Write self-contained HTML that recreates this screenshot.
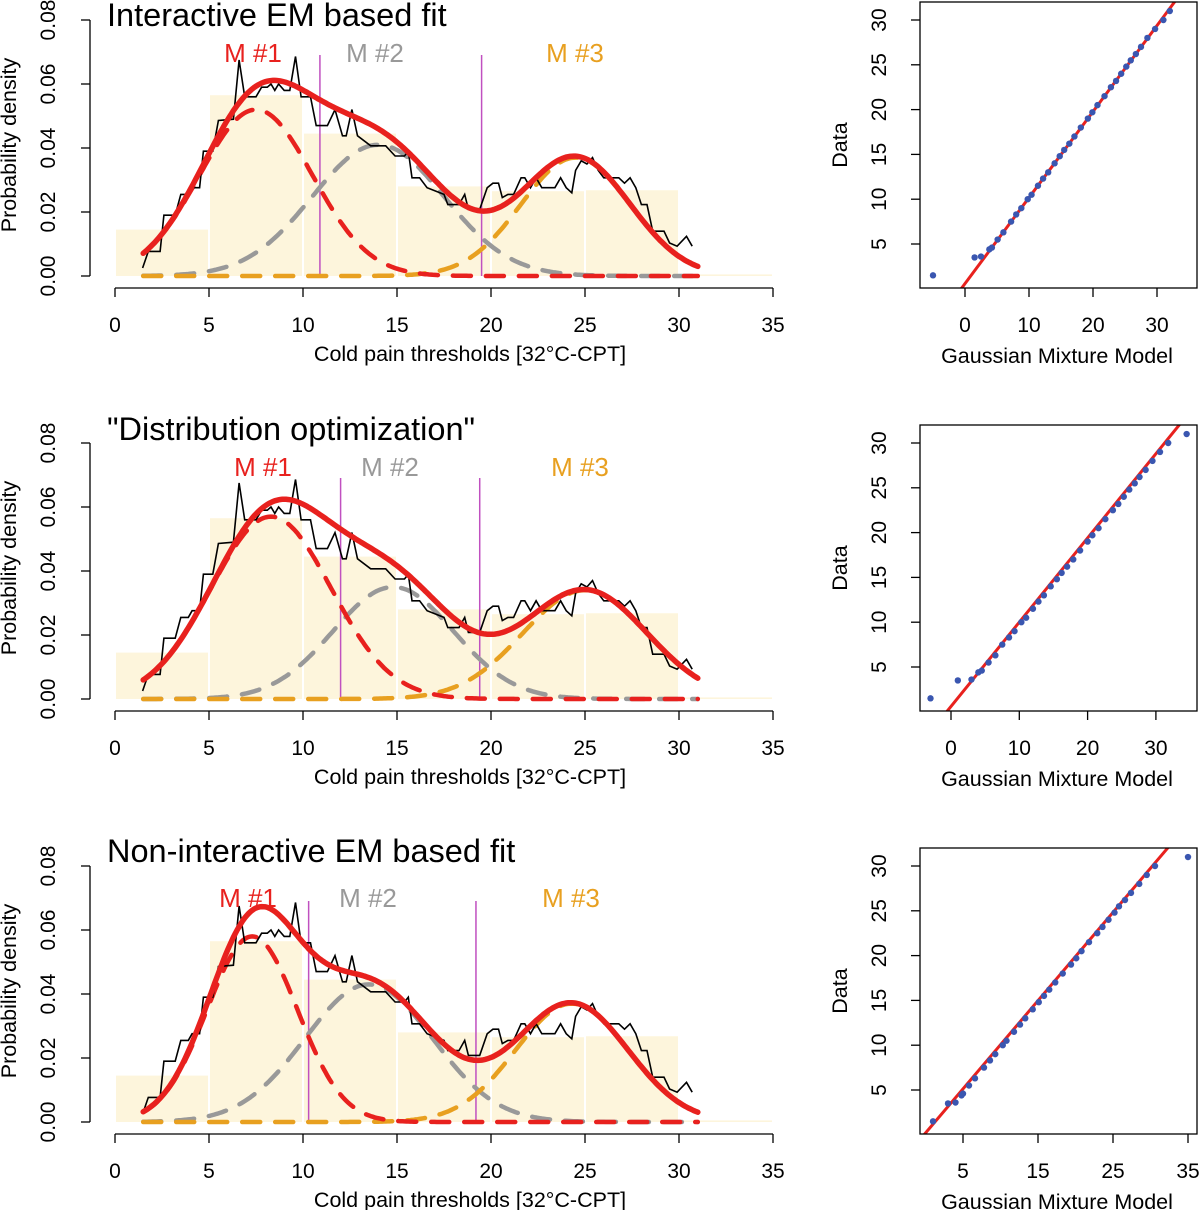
<!DOCTYPE html>
<html><head><meta charset="utf-8"><style>
html,body{margin:0;padding:0;background:#fff;}
svg{display:block;font-family:"Liberation Sans",Arial,sans-serif;}
</style></head><body>
<svg id="chart" width="1200" height="1210" viewBox="0 0 1200 1210" xmlns="http://www.w3.org/2000/svg"></svg>
<script>
var titles = ["Interactive EM based fit", "\"Distribution optimization\"", "Non-interactive EM based fit"];
var histEdges = [0, 5, 10, 15, 20, 25, 30, 35];
var histDensity = [0.0145, 0.0565, 0.0445, 0.028, 0.0265, 0.0268, 0.0005];
var xTicks = [0, 5, 10, 15, 20, 25, 30, 35];
var yTicks = [0, 0.02, 0.04, 0.06, 0.08];
var yTickLabels = ["0.00", "0.02", "0.04", "0.06", "0.08"];
var empX = [1.47,1.77,2.4,2.6,3.2,3.5,3.9,4.1,4.5,4.7,5.2,5.5,6.3,6.6,6.9,7.5,7.8,8.1,8.3,8.5,8.7,9.0,9.3,9.6,9.9,10.4,10.7,11.3,11.7,12.1,12.3,12.6,12.9,13.6,14.4,14.9,15.4,15.6,15.8,16.2,16.6,17.5,17.7,18.3,18.6,18.8,19.4,19.8,20.1,20.4,20.6,20.9,21.2,21.6,21.8,22.1,22.4,22.7,23.4,23.7,24.0,24.3,24.5,24.8,25.1,25.4,25.7,26.0,26.8,27.1,27.4,27.7,28.0,28.3,28.6,29.2,29.5,29.9,30.4,30.7];
var empY = [0.0025,0.0077,0.0077,0.019,0.019,0.0255,0.0255,0.0276,0.0276,0.039,0.039,0.0486,0.049,0.0675,0.056,0.056,0.059,0.059,0.060,0.058,0.060,0.058,0.058,0.0686,0.056,0.056,0.047,0.047,0.052,0.0438,0.0438,0.052,0.0438,0.0407,0.0407,0.0375,0.0375,0.039,0.0307,0.0307,0.0276,0.0255,0.0223,0.0223,0.0255,0.0208,0.0208,0.0276,0.029,0.029,0.0245,0.0255,0.0255,0.0307,0.0307,0.0276,0.0307,0.0276,0.0276,0.0307,0.0276,0.026,0.033,0.036,0.035,0.037,0.033,0.0307,0.0307,0.029,0.0307,0.0276,0.0223,0.0223,0.014,0.014,0.0103,0.0093,0.0124,0.0093];
var means = [[7.5,14,24.5],[8.3,14.8,25],[7.3,13.5,24.3]];
var sds = [[3,3.5,2.9],[3.2,3.2,3.3],[2.4,3.4,3.0]];
var peaks = [[0.052,0.041,0.037],[0.057,0.035,0.034],[0.058,0.043,0.037]];
var bounds = [[10.9,19.5],[12,19.4],[10.3,19.2]];
var labelX = [[253,375,575],[263,390,580],[248,368,571]];
var titleY = [26, 440, 862];
var mLabelY = [62, 476, 907];
var qqData = [1.5,3.5,3.6,4.4,4.6,5.5,6.3,7.5,8.3,9,10,10.5,11.5,12.3,13,14,14.8,15.5,16.2,17,18,19,19.7,20.5,21.5,22.5,23.2,24,24.8,25.5,26.2,27,28,29,30,31];
var qqTheo = [
 [-5,1.5,2.5,3.8,4.2,5.1,6,7.2,8,8.8,9.8,10.4,11.4,12.2,13,14,14.8,15.5,16.3,17.1,18.1,19.2,19.9,20.7,21.8,22.8,23.6,24.4,25.2,25.9,26.7,27.5,28.5,29.7,31.0,32.0],
 [-3,1,3,4,4.5,5.5,6.5,7.5,8.5,9.3,10.3,11,12,12.8,13.6,14.6,15.5,16.2,17,17.9,18.9,20,20.7,21.6,22.6,23.7,24.5,25.3,26.1,26.9,27.6,28.5,29.5,30.6,31.8,34.5],
 [1,3,4,4.8,5,5.8,6.6,7.8,8.6,9.3,10.3,10.8,11.8,12.6,13.3,14.3,15.1,15.8,16.5,17.3,18.3,19.4,20.1,20.8,21.8,22.9,23.6,24.4,25.2,25.8,26.6,27.4,28.5,29.5,30.6,35]];
var qqSlope = [0.96, 0.94, 0.985];
var qqIntercept = [0.58, 0.6, 0.2];
var qqXTicks = [[0,10,20,30],[0,10,20,30],[5,15,25,35]];
var qqYTicks = [5,10,15,20,25,30];

var rootSvg = document.getElementById('chart');
var SVGNS = 'http://www.w3.org/2000/svg';
function mk(tag, attrs, parent, text){
  var e = document.createElementNS(SVGNS, tag);
  for (var k in attrs) e.setAttribute(k, attrs[k]);
  if (text !== undefined) e.textContent = text;
  (parent || rootSvg).appendChild(e);
  return e;
}
function gauss(x, m, s, pk){ return pk*Math.exp(-Math.pow((x-m)/s,2)/2); }
var panelOffsets = [0, 423, 846];
var qqX0 = [965, 951, 925.5], qqXs = [6.4, 6.83, 7.5];
var compColors = ['#e8211e', '#999999', '#e8a020'];
var FS = 21;

function drawPanel(p){
  var oy = panelOffsets[p];
  var g = mk('g', {}, rootSvg);
  
  
  function X(v){ return 115 + v*18.8; }
  function Y(v){ return 276 + oy - v*3200; }
  for (var i = 0; i < histDensity.length; i++) {
    var d = histDensity[i];
    var r = mk('rect', {x: X(histEdges[i])+1, y: Y(d), width: X(histEdges[i+1])-X(histEdges[i])-2, height: Y(0)-Y(d), fill: '#fdf5dc'}, g);
    
    
  }
  for (var b = 0; b < 2; b++) {
    var bx = X(bounds[p][b]);
    var l = mk('line', {x1: bx, x2: bx, y1: 55+oy, y2: Y(0), stroke: '#c050c0', 'stroke-width': 1.5}, g);
    
    
  }
  var order = [1, 2, 0];
  for (var oi = 0; oi < 3; oi++) {
    var c = order[oi];
    var pts = [];
    for (var x = 1.5; x <= 31.0001; x += 0.1) pts.push(X(x).toFixed(1)+','+Y(gauss(x, means[p][c], sds[p][c], peaks[p][c])).toFixed(1));
    var pl = mk('polyline', {points: pts.join(' '), fill: 'none', stroke: compColors[c], 'stroke-width': 4.5, 'stroke-dasharray': '18,15', 'stroke-linecap': 'round'}, g);
    
    
  }
  var ep = [];
  for (var j = 0; j < empX.length; j++) ep.push(X(empX[j]).toFixed(1)+','+Y(empY[j]).toFixed(1));
  var emp = mk('polyline', {points: ep.join(' '), fill: 'none', stroke: '#000', 'stroke-width': 1.6}, g);
  
  
  var tp = [];
  for (var x2 = 1.5; x2 <= 31.0001; x2 += 0.1) {
    var s = 0; for (var k = 0; k < 3; k++) s += gauss(x2, means[p][k], sds[p][k], peaks[p][k]);
    tp.push(X(x2).toFixed(1)+','+Y(s).toFixed(1));
  }
  var tl = mk('polyline', {points: tp.join(' '), fill: 'none', stroke: '#e8211e', 'stroke-width': 5.5, 'stroke-linecap': 'round'}, g);
  
  
  var mlabels = ['M #1', 'M #2', 'M #3'];
  for (var m = 0; m < 3; m++) {
    var tx = mk('text', {x: labelX[p][m], y: mLabelY[p], 'text-anchor': 'middle', 'font-size': 26, fill: compColors[m]}, g, mlabels[m]);
    
    
  }
  var tt = mk('text', {x: 107, y: titleY[p], 'font-size': 32.5, fill: '#000'}, g, titles[p]);
  
  
  var ax = mk('g', {stroke: '#000', 'stroke-width': 1.3}, g);
  
  
  mk('line', {x1: X(0), x2: X(35), y1: 288+oy, y2: 288+oy}, ax);
  for (var t = 0; t < xTicks.length; t++) {
    mk('line', {x1: X(xTicks[t]), x2: X(xTicks[t]), y1: 288+oy, y2: 297+oy}, ax);
    var xl = mk('text', {x: X(xTicks[t]), y: 332+oy, 'text-anchor': 'middle', 'font-size': FS, fill: '#000'}, g, String(xTicks[t]));
    
    
  }
  var xt = mk('text', {x: 470, y: 361+oy, 'text-anchor': 'middle', 'font-size': 21.5}, g, 'Cold pain thresholds [32°C-CPT]');
  
  
  var ay = mk('g', {stroke: '#000', 'stroke-width': 1.3}, g);
  
  
  mk('line', {x1: 90, x2: 90, y1: Y(0.08), y2: Y(0)}, ay);
  for (var yi = 0; yi < yTicks.length; yi++) {
    var yy = Y(yTicks[yi]);
    mk('line', {x1: 81, x2: 90, y1: yy, y2: yy}, ay);
    var yl = mk('text', {x: 55, y: yy, 'text-anchor': 'middle', 'font-size': FS, transform: 'rotate(-90 55 ' + yy + ')'}, g, yTickLabels[yi]);
    
    
  }
  var yt = mk('text', {x: 16, y: 145+oy, 'text-anchor': 'middle', 'font-size': 21.5, transform: 'rotate(-90 16 ' + (145+oy) + ')'}, g, 'Probability density');
  
  

  var q = mk('g', {}, rootSvg);
  
  
  function QX(v){ return qqX0[p] + v*qqXs[p]; }
  function QY(v){ return 244 + oy - (v-5)*8.96; }
  var defs = mk('defs', {}, q);
  var cp = mk('clipPath', {id: 'qc' + p}, defs);
  mk('rect', {x: 920, y: 2+oy, width: 277, height: 286}, cp);
  var lx1 = -10, lx2 = 40;
  var ql = mk('line', {x1: QX(lx1), y1: QY(qqIntercept[p]+qqSlope[p]*lx1), x2: QX(lx2), y2: QY(qqIntercept[p]+qqSlope[p]*lx2), stroke: '#e8211e', 'stroke-width': 3, 'clip-path': 'url(#qc' + p + ')'}, q);
  
  
  for (var qi = 0; qi < qqData.length; qi++) {
    var pt = mk('circle', {cx: QX(qqTheo[p][qi]), cy: QY(qqData[qi]), r: 3.2, fill: '#3a56b0'}, q);
    
    
  }
  var box = mk('rect', {x: 920, y: 2+oy, width: 277, height: 286, fill: 'none', stroke: '#000', 'stroke-width': 1.3}, q);
  
  
  for (var a = 0; a < qqXTicks[p].length; a++) {
    var tv = qqXTicks[p][a];
    mk('line', {x1: QX(tv), x2: QX(tv), y1: 288+oy, y2: 297+oy, stroke: '#000', 'stroke-width': 1.3}, q);
    var qxl = mk('text', {x: QX(tv), y: 332+oy, 'text-anchor': 'middle', 'font-size': FS}, q, String(tv));
    
    
  }
  for (var bb = 0; bb < qqYTicks.length; bb++) {
    var qy = QY(qqYTicks[bb]);
    mk('line', {x1: 911, x2: 920, y1: qy, y2: qy, stroke: '#000', 'stroke-width': 1.3}, q);
    var qyl = mk('text', {x: 886, y: qy, 'text-anchor': 'middle', 'font-size': FS, transform: 'rotate(-90 886 ' + qy + ')'}, q, String(qqYTicks[bb]));
    
    
  }
  var qxt = mk('text', {x: 1057, y: 363+oy, 'text-anchor': 'middle', 'font-size': 21.5}, q, 'Gaussian Mixture Model');
  
  
  var qyt = mk('text', {x: 847, y: 145+oy, 'text-anchor': 'middle', 'font-size': 21.5, transform: 'rotate(-90 847 ' + (145+oy) + ')'}, q, 'Data');
  
  
}
for (var pp = 0; pp < 3; pp++) {
  try { drawPanel(pp); } catch (err) { console.log(err); }
}
</script>
</body></html>
